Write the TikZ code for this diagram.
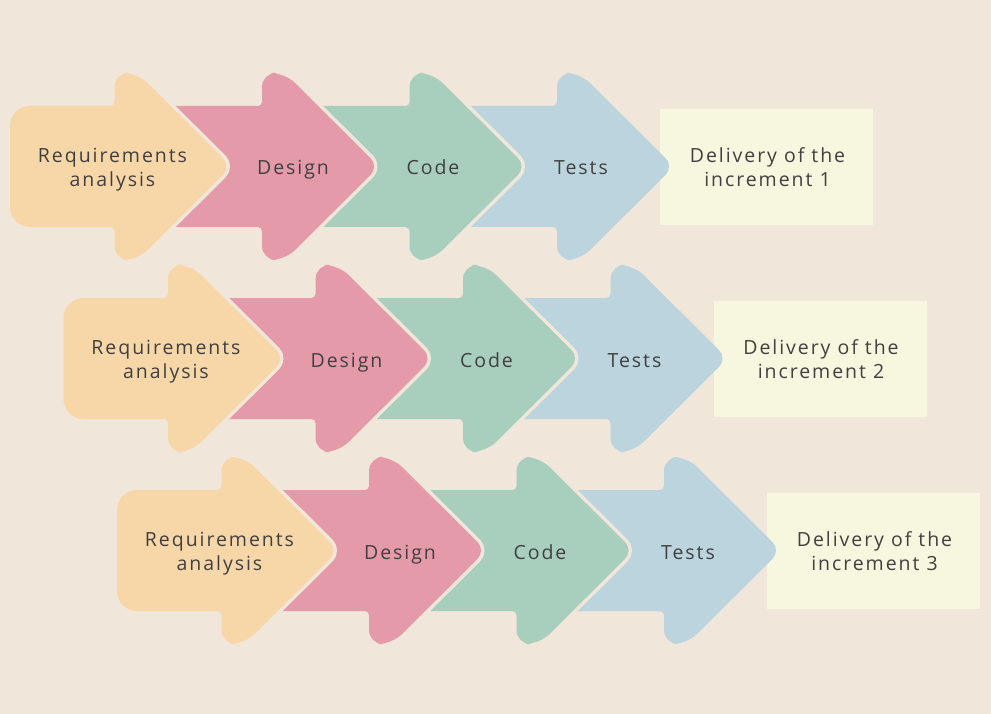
\documentclass[tikz,border=0pt]{standalone}
\usepackage{fontspec}
\setmainfont{Open Sans}[LetterSpace=10]
\definecolor{bgc}{RGB}{240,230,218}
\definecolor{reqc}{RGB}{247,214,168}
\definecolor{desc}{RGB}{229,154,170}
\definecolor{codc}{RGB}{168,207,190}
\definecolor{tstc}{RGB}{187,212,222}
\definecolor{delc}{RGB}{247,246,222}
\definecolor{txtc}{RGB}{64,64,64}
% #1 = body left, #2 = head base, #3 = centre y
\newcommand\arrowoutline[3]{%
  ({#1},{#3}) [rounded corners=20pt] -- ({#1},{#3-60.5})
  [rounded corners=4pt] -- ({#2},{#3-60.5})
  [rounded corners=14pt] -- ({#2},{#3-93.5})
  -- ({#2+23},{#3-93.5})
  [rounded corners=12pt] -- ({#2+117},{#3})
  [rounded corners=14pt] -- ({#2+23},{#3+93.5})
  -- ({#2},{#3+93.5})
  [rounded corners=4pt] -- ({#2},{#3+60.5})
  [rounded corners=20pt] -- ({#1},{#3+60.5}) -- cycle}
% #1 colour, #2 body left, #3 head base, #4 centre y
\newcommand\gaparrow[4]{%
  \path[draw=bgc, line width=7pt, line join=round] \arrowoutline{#2}{#3}{#4};
  \path[fill=#1] \arrowoutline{#2}{#3}{#4};}
\newcommand\plainarrow[4]{%
  \path[fill=#1] \arrowoutline{#2}{#3}{#4};}
\tikzset{
  lbl/.style={text=txtc, font=\fontsize{19.5}{24}\selectfont, align=center, inner sep=0pt, anchor=base},
  delbox/.style={fill=delc, minimum width=213pt, minimum height=116pt, inner sep=0pt}
}
\begin{document}
\begin{tikzpicture}[x=1pt,y=-1pt]
\fill[bgc] (0,0) rectangle (991,714);
\useasboundingbox (0,0) rectangle (991,714);
\foreach \r in {0,1,2}{
  \pgfmathsetmacro\dx{53.5*\r}
  \pgfmathsetmacro\dy{192*\r}
  \pgfmathsetmacro\n{int(\r+1)}
  \node[delbox] (del\n) at ({766.5+\dx},{167+\dy}) {};
  \plainarrow{tstc}{409.5+\dx}{557+\dx}{166.5+\dy}
  \gaparrow{codc}{262+\dx}{409.5+\dx}{166.5+\dy}
  \gaparrow{desc}{114.5+\dx}{262+\dx}{166.5+\dy}
  \gaparrow{reqc}{10+\dx}{114.5+\dx}{166.5+\dy}
  \node[lbl] (req\n) at ({112.5+\dx},{186.7+\dy}) {Requirements\\analysis};
  \node[lbl] (des\n) at ({293+\dx},{175+\dy}) {Design};
  \node[lbl] (cod\n) at ({433+\dx},{175+\dy}) {Code};
  \node[lbl] (tst\n) at ({581+\dx},{175+\dy}) {Tests};
  \node[lbl] (dlt\n) at ({767.5+\dx},{186.7+\dy}) {Delivery of the\\increment \n};
}
\end{tikzpicture}
\end{document}
